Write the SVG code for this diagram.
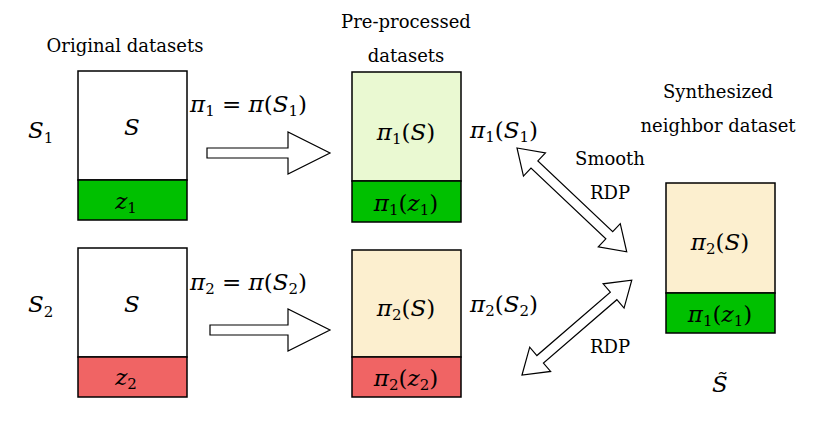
<svg xmlns="http://www.w3.org/2000/svg" width="814" height="429" viewBox="0 0 814 429">
<style>
text{font-family:'DejaVu Serif','Liberation Serif',serif;fill:#000}
.m{font-size:23px;font-style:italic}
.u{font-style:normal}
.s{font-size:15px;font-style:normal}
.l{font-size:18px}
.b{stroke:#000;stroke-width:1.5}
.a{fill:#fff;stroke:#000;stroke-width:1.2}
</style>
<rect width="814" height="429" fill="#fff"/>
<text class="l" x="125" y="52" text-anchor="middle">Original datasets</text>
<text class="l" x="406" y="28" text-anchor="middle">Pre-processed</text>
<text class="l" x="406" y="62" text-anchor="middle">datasets</text>
<text class="l" x="718" y="98" text-anchor="middle">Synthesized</text>
<text class="l" x="718" y="132" text-anchor="middle">neighbor dataset</text>
<g id="orig1">
<rect class="b" x="78" y="71" width="109" height="109" fill="#fff"/>
<rect class="b" x="78" y="180" width="109" height="40" fill="#00c000"/>
<text class="m" x="132" y="135" text-anchor="middle">S</text>
<text class="m" x="126" y="209" text-anchor="middle">z<tspan class="s" dy="4">1</tspan></text>
<text class="m" x="28" y="138">S<tspan class="s" dy="5">1</tspan></text>
</g>
<g id="orig2">
<rect class="b" x="78" y="248" width="109" height="109" fill="#fff"/>
<rect class="b" x="78" y="357" width="109" height="40" fill="#f06464"/>
<text class="m" x="132" y="312" text-anchor="middle">S</text>
<text class="m" x="126" y="385" text-anchor="middle">z<tspan class="s" dy="4">2</tspan></text>
<text class="m" x="28" y="312">S<tspan class="s" dy="5">2</tspan></text>
</g>
<g id="pre1">
<rect class="b" x="352" y="72" width="109" height="109" fill="#eaf9d2" stroke="#666"/>
<rect class="b" x="352" y="181" width="109" height="41" fill="#00c000"/>
<text class="m" x="406" y="140" text-anchor="middle">π<tspan class="s" dy="4">1</tspan><tspan class="u" dy="-4">(</tspan>S<tspan class="u">)</tspan></text>
<text class="m" x="406" y="211" text-anchor="middle">π<tspan class="s" dy="4">1</tspan><tspan class="u" dy="-4">(</tspan>z<tspan class="s" dy="4">1</tspan><tspan class="u" dy="-4">)</tspan></text>
</g>
<g id="pre2">
<rect class="b" x="352" y="250" width="109" height="107" fill="#fcefcf" stroke="#666"/>
<rect class="b" x="352" y="357" width="109" height="40" fill="#f06464"/>
<text class="m" x="406" y="316" text-anchor="middle">π<tspan class="s" dy="4">2</tspan><tspan class="u" dy="-4">(</tspan>S<tspan class="u">)</tspan></text>
<text class="m" x="406" y="386" text-anchor="middle">π<tspan class="s" dy="4">2</tspan><tspan class="u" dy="-4">(</tspan>z<tspan class="s" dy="4">2</tspan><tspan class="u" dy="-4">)</tspan></text>
</g>
<g id="synth">
<rect class="b" x="666" y="183" width="109" height="110" fill="#fcefcf"/>
<rect class="b" x="666" y="293" width="109" height="40" fill="#00c000"/>
<text class="m" x="720" y="250" text-anchor="middle">π<tspan class="s" dy="4">2</tspan><tspan class="u" dy="-4">(</tspan>S<tspan class="u">)</tspan></text>
<text class="m" x="720" y="322" text-anchor="middle">π<tspan class="s" dy="4">1</tspan><tspan class="u" dy="-4">(</tspan>z<tspan class="s" dy="4">1</tspan><tspan class="u" dy="-4">)</tspan></text>
<text class="m" x="720" y="392" text-anchor="middle">S̃</text>
</g>
<g id="connectors">
<polygon class="a" points="207,148 288,148 288,132 330,153 288,174 288,158 207,158"/>
<polygon class="a" points="210,325 288,325 288,309 330,330 288,351 288,335 210,335"/>
<polygon class="a" transform="translate(517,148) rotate(43.4)" points="0,0 24,-16 24,-5 127,-5 127,-16 151,0 127,16 127,5 24,5 24,16"/>
<polygon class="a" transform="translate(522,375) rotate(-40.8)" points="0,0 24,-16 24,-5 121,-5 121,-16 145,0 121,16 121,5 24,5 24,16"/>
<text class="m" x="190" y="112">π<tspan class="s" dy="4">1</tspan><tspan class="u" dy="-4"> = </tspan>π<tspan class="u">(</tspan>S<tspan class="s" dy="4">1</tspan><tspan class="u" dy="-4">)</tspan></text>
<text class="m" x="190" y="290">π<tspan class="s" dy="4">2</tspan><tspan class="u" dy="-4"> = </tspan>π<tspan class="u">(</tspan>S<tspan class="s" dy="4">2</tspan><tspan class="u" dy="-4">)</tspan></text>
<text class="m" x="470" y="138">π<tspan class="s" dy="4">1</tspan><tspan class="u" dy="-4">(</tspan>S<tspan class="s" dy="4">1</tspan><tspan class="u" dy="-4">)</tspan></text>
<text class="m" x="470" y="312">π<tspan class="s" dy="4">2</tspan><tspan class="u" dy="-4">(</tspan>S<tspan class="s" dy="4">2</tspan><tspan class="u" dy="-4">)</tspan></text>
<text class="l" x="610" y="165" text-anchor="middle">Smooth</text>
<text class="l" x="610" y="199" text-anchor="middle">RDP</text>
<text class="l" x="610" y="353" text-anchor="middle">RDP</text>
</g>
</svg>
